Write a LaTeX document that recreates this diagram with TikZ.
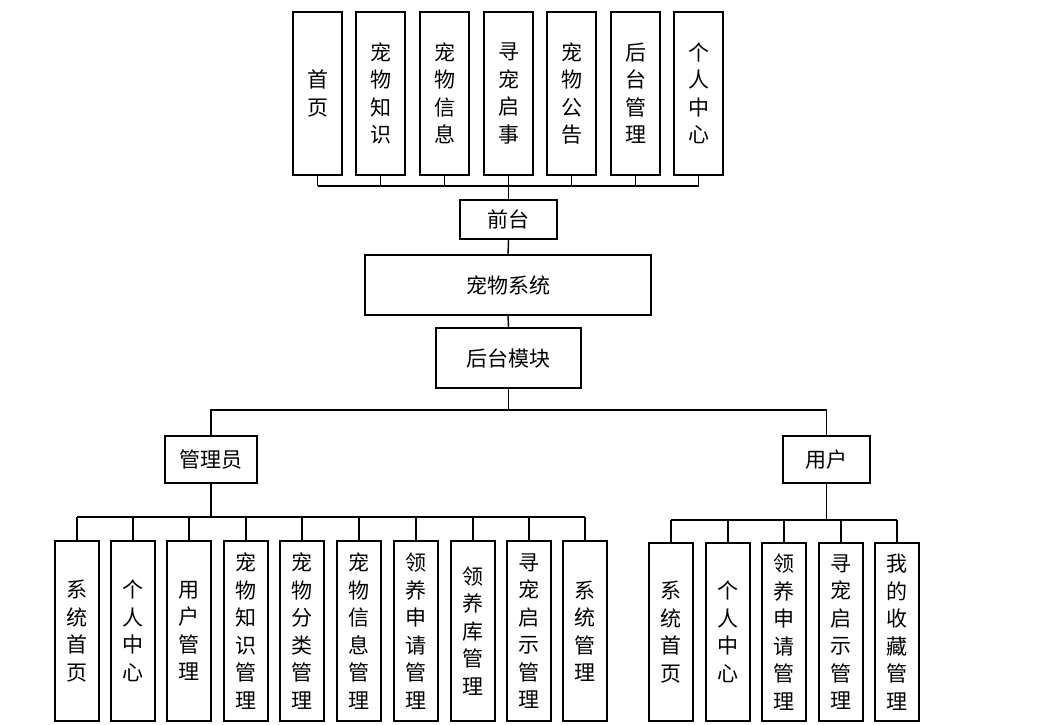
\documentclass[tikz,border=0pt]{standalone}
\usepackage{fontspec}
\newfontfamily\cjk{Noto Sans CJK SC}
\begin{document}
\begin{tikzpicture}[x=1pt,y=-1pt,
  bx/.style={draw,line width=1.4pt,align=center,inner sep=0pt,font=\cjk\fontsize{21}{27.5}\selectfont},
  ln/.style={line width=1.4pt}]
\useasboundingbox (0,0) rectangle (1041,725);
% top
\foreach \n/\x/\t in {t1/317.5/首\\页,t2/380.5/宠\\物\\知\\识,t3/444.5/宠\\物\\信\\息,t4/508.5/寻\\宠\\启\\事,t5/571.5/宠\\物\\公\\告,t6/635.5/后\\台\\管\\理,t7/698.5/个\\人\\中\\心}
  \node[bx,minimum width=49,minimum height=163] (\n) at (\x,93.5) {\t};
\node[bx,minimum width=97,minimum height=39] (qt) at (508.5,219.5) {前台};
\node[bx,minimum width=286,minimum height=60] (sys) at (508,285) {宠物系统};
\node[bx,minimum width=145,minimum height=60] (ht) at (508.5,358) {后台模块};
\node[bx,minimum width=92,minimum height=47] (adm) at (211,459.5) {管理员};
\node[bx,minimum width=87,minimum height=47] (usr) at (826.5,459.5) {用户};
\foreach \n in {t1,t2,t3,t4,t5,t6,t7} \draw[ln] (\n.south) -- (\n.south|-0,186);
\draw[ln] (t1.south|-0,186) -- (t7.south|-0,186);
\draw[ln] (qt.north) -- (qt.north|-0,186);
\draw[ln] (qt.south) -- (sys.north);
\draw[ln] (sys.south) -- (ht.north);
\draw[ln] (ht.south) -- (ht.south|-0,410);
\draw[ln] (adm.north) -- (adm.north|-0,410) -- (usr.north|-0,410) -- (usr.north);
% admin children
\foreach \n/\x/\t in {a1/77/系\\统\\首\\页,a2/133/个\\人\\中\\心,a3/189/用\\户\\管\\理,a4/246/宠\\物\\知\\识\\管\\理,a5/302/宠\\物\\分\\类\\管\\理,a6/359/宠\\物\\信\\息\\管\\理,a7/416/领\\养\\申\\请\\管\\理,a8/473/领\\养\\库\\管\\理,a9/529/寻\\宠\\启\\示\\管\\理,a10/585/系\\统\\管\\理}{
  \node[bx,minimum width=44,minimum height=180] (\n) at (\x,631) {\t};
  \draw[ln] (\n.north) -- (\n.north|-0,517);}
\draw[ln] (a1.north|-0,517) -- (a10.north|-0,517);
\draw[ln] (adm.south) -- (adm.south|-0,517);
% user children
\foreach \n/\x/\t in {u1/671/系\\统\\首\\页,u2/728/个\\人\\中\\心,u3/784/领\\养\\申\\请\\管\\理,u4/841/寻\\宠\\启\\示\\管\\理,u5/897/我\\的\\收\\藏\\管\\理}{
  \node[bx,minimum width=44,minimum height=178] (\n) at (\x,632) {\t};
  \draw[ln] (\n.north) -- (\n.north|-0,520);}
\draw[ln] (u1.north|-0,520) -- (u5.north|-0,520);
\draw[ln] (usr.south) -- (usr.south|-0,520);
\end{tikzpicture}
\end{document}
